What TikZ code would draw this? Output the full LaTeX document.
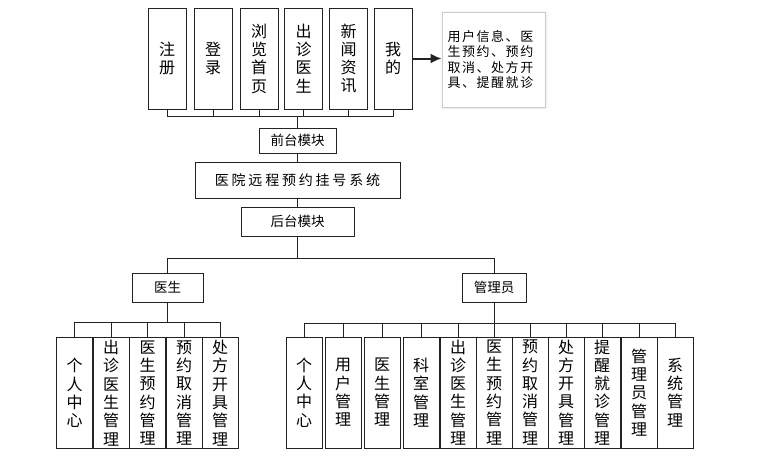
\documentclass[tikz,border=0pt]{standalone}
\usepackage{fontspec}
\setmainfont{Noto Sans CJK SC}
\usepackage{xcolor}
\usepackage{tikz}
\usetikzlibrary{arrows.meta, positioning, shadows.blur}
\definecolor{boxLine}{RGB}{35,35,35}
\definecolor{infoLine}{RGB}{205,205,205}

\tikzset{
  modbox/.style={rectangle, draw=boxLine, line width=0.9pt, fill=white, inner sep=0pt,
                 font=\fontsize{13.5}{16}\selectfont},
  tallbox/.style={rectangle, draw=boxLine, line width=0.9pt, fill=white, inner sep=0pt,
                  align=center, minimum width=36pt, minimum height=111pt,
                  font=\fontsize{16}{18.3}\selectfont},
  link/.style={draw=boxLine, line width=0.8pt}
}

\begin{document}
\begin{tikzpicture}[x=1pt, y=-1pt]
\useasboundingbox (0,0) rectangle (766,461);

% front end
\foreach \x/\nm/\txt in {167/t1/{注\\册}, 213/t2/{登\\录}, 259/t3/{浏\\览\\首\\页},
                         303.5/t4/{出\\诊\\医\\生}, 348.5/t5/{新\\闻\\资\\讯}, 393/t6/{我\\的}}
  \node[tallbox, minimum width=38pt, minimum height=101pt] (\nm) at (\x,58.5) {\txt};

\node[rectangle, draw=infoLine, line width=0.8pt, fill=white, inner sep=0pt,
      minimum width=103pt, minimum height=95pt, text width=92pt, align=left,
      blur shadow={shadow xshift=0.8pt, shadow yshift=-0.8pt, shadow blur steps=3, shadow opacity=20},
      font=\fontsize{13}{15.5}\selectfont\addfontfeature{LetterSpace=12}] (info) at (493.5,59.5)
  {用户信息、医\\生预约、预约\\取消、处方开\\具、提醒就诊};
\draw[draw=boxLine, line width=2pt, -{Latex[length=11pt, width=10pt]}] (t6.east) -- (t6.east -| info.west);

\node[modbox, minimum width=77pt, minimum height=25pt] (front) at (297.5,140.5) {前台模块};
\coordinate (fbus) at (297.5,116);
\foreach \i in {1,...,6}
  \draw[link] (t\i) |- (fbus);
\draw[link] (fbus) -- (front);

% system and back end
\node[modbox, minimum width=205pt, minimum height=36pt,
      font=\fontsize{14}{16}\selectfont\addfontfeature{LetterSpace=20}] (sys) at (297.5,180) {医院远程预约挂号系统};
\node[modbox, minimum width=113pt, minimum height=29pt] (back) at (297.5,221.5) {后台模块};
\draw[link] (front) -- (sys);
\draw[link] (sys) -- (back);

\node[modbox, minimum width=71pt, minimum height=29pt] (doc) at (167.5,287.5) {医生};
\node[modbox, minimum width=64pt, minimum height=29pt] (adm) at (494,287.5) {管理员};
\coordinate (bbus) at (297.5,258);
\draw[link] (back) -- (bbus);
\draw[link] (bbus) -| (doc);
\draw[link] (bbus) -| (adm);

% doctor functions
\foreach \x/\nm/\txt in {74.5/d1/{个\\人\\中\\心}, 111/d2/{出\\诊\\医\\生\\管\\理},
                         147.5/d3/{医\\生\\预\\约\\管\\理}, 184/d4/{预\\约\\取\\消\\管\\理},
                         220/d5/{处\\方\\开\\具\\管\\理}}
  \node[tallbox] (\nm) at (\x,393) {\txt};
\coordinate (dbus) at (167.5,322);
\draw[link] (doc) -- (dbus);
\foreach \i in {1,...,5}
  \draw[link] (dbus) -| (d\i);

% admin functions
\foreach \x/\nm/\txt in {304/a1/{个\\人\\中\\心}, 343/a2/{用\\户\\管\\理}, 382/a3/{医\\生\\管\\理},
                         421/a4/{科\\室\\管\\理}, 458/a5/{出\\诊\\医\\生\\管\\理},
                         494/a6/{医\\生\\预\\约\\管\\理}, 530/a7/{预\\约\\取\\消\\管\\理},
                         566/a8/{处\\方\\开\\具\\管\\理}, 602/a9/{提\\醒\\就\\诊\\管\\理},
                         639/a10/{管\\理\\员\\管\\理}, 675/a11/{系\\统\\管\\理}}
  \node[tallbox] (\nm) at (\x,392.5) {\txt};
\coordinate (abus) at (494,323);
\draw[link] (adm) -- (abus);
\foreach \i in {1,...,11}
  \draw[link] (abus) -| (a\i);
\end{tikzpicture}
\end{document}
